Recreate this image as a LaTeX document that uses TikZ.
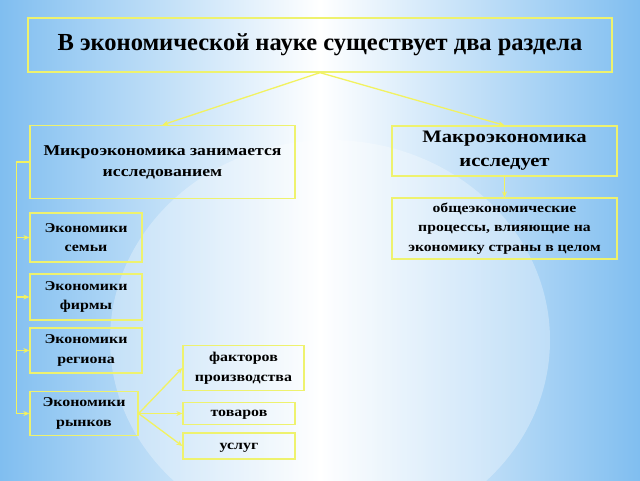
\documentclass[tikz,border=0pt]{standalone}
\usepackage{fontspec}
\setmainfont{Liberation Serif}
\newfontfamily\widefont[FakeStretch=1.18]{Liberation Serif}
\usetikzlibrary{positioning,arrows.meta}
\definecolor{sky}{RGB}{128,190,240}
\definecolor{boxline}{RGB}{238,242,110}
\definecolor{linkline}{RGB}{242,242,96}
\tikzset{
  box/.style={draw=boxline, line width=1.3pt, inner sep=0pt},
  small/.style={font=\widefont\bfseries\fontsize{13.5}{19.5}\selectfont},
  link/.style={draw=linkline, line width=1.3pt, -{Stealth[length=6pt,width=5pt]}}
}

\begin{document}
\begin{tikzpicture}[x=1pt,y=-1pt]
    % background
    \useasboundingbox (0,0) rectangle (640,480);
    \shade[left color=sky, right color=sky, middle color=white] (0,0) rectangle (640,480);
    \begin{scope}
    \clip (0,0) rectangle (640,480);
    \fill[white, opacity=0.3] (330,340) ellipse (220 and 200);
    \end{scope}

    \node[box, minimum width=584pt, minimum height=54pt, font=\bfseries\fontsize{24.5}{26}\selectfont] (title) at (320,45) {В экономической науке существует два раздела};

    \node[box, align=center, minimum width=265pt, minimum height=73pt, font=\widefont\bfseries\fontsize{15}{21}\selectfont] (micro) at (162.5,162) {Микроэкономика занимается\\исследованием};
    \node[box, align=center, minimum width=225pt, minimum height=50pt, font=\widefont\bfseries\fontsize{17.5}{24}\selectfont] (macro) at (504.5,151) {Макроэкономика\\исследует};
    \node[box, align=center, minimum width=225pt, minimum height=61pt, font=\widefont\bfseries\fontsize{13.3}{19.5}\selectfont] (proc) at (504.5,228.5) {общеэкономические\\процессы, влияющие на\\экономику страны в целом};

    \node[box, small, align=center, minimum width=112pt, minimum height=49pt] (family) at (86,237.5) {Экономики\\семьи};
    \node[box, small, align=center, minimum width=112pt, minimum height=46pt] (firm) at (86,297) {Экономики\\фирмы};
    \node[box, small, align=center, minimum width=112pt, minimum height=45pt] (region) at (86,350.5) {Экономики\\региона};
    \node[box, small, align=center, minimum width=108pt, minimum height=44pt] (market) at (84,413.5) {Экономики\\рынков};

    \node[box, small, align=center, minimum width=121pt, minimum height=45pt, font=\widefont\bfseries\fontsize{13.5}{20}\selectfont] (factors) at (243.5,368) {факторов\\производства};
    \node[box, small, text depth=0pt, minimum width=112pt, minimum height=22pt] (goods) at (239,413.5) {товаров};
    \node[box, small, text depth=0pt, minimum width=112pt, minimum height=26pt] (services) at (239,446) {услуг};

    % connectors
    \draw[link] (title.south) -- (micro.north);
    \draw[link] (title.south) -- (macro.north);
    \draw[link] (macro.south) -- (proc.north);

    \coordinate[left=13pt of micro.west] (trunk);
    \draw[link] (micro.west) -- (trunk) |- (market.west);
    \draw[link] (trunk |- family.west) -- (family.west);
    \draw[link] (trunk |- firm.west) -- (firm.west);
    \draw[link] (trunk |- region.west) -- (region.west);

    \draw[link] (market.east) -- (factors.west);
    \draw[link] (market.east) -- (goods.west);
    \draw[link] (market.east) -- (services.west);
\end{tikzpicture}
\end{document}
